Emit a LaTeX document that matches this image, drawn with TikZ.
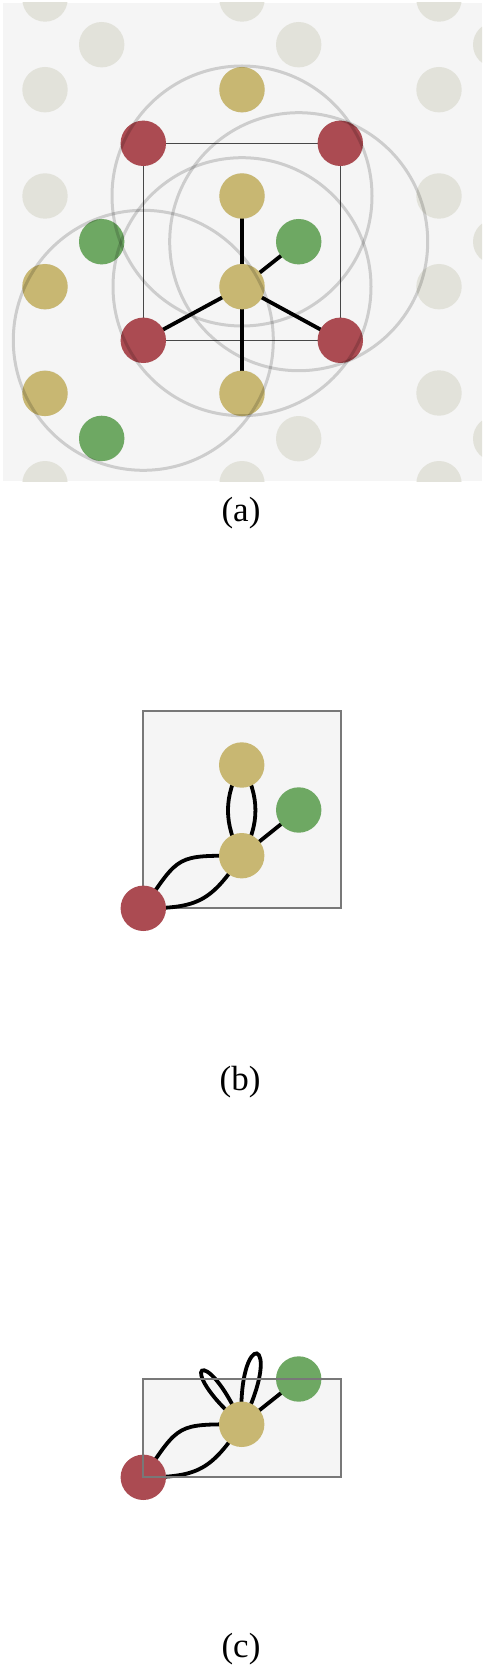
\documentclass[tikz,border=0pt]{standalone}
\usepackage{fontspec}
\setmainfont{Liberation Serif}
\usetikzlibrary{calc}
\definecolor{cred}{HTML}{AB4B52}
\definecolor{cyel}{HTML}{C8B772}
\definecolor{cgrn}{HTML}{6EA863}
\definecolor{cgry}{HTML}{E2E2DA}
\definecolor{cbg}{HTML}{F5F5F5}
\pgfdeclarelayer{bglayer}
\pgfdeclarelayer{edgelayer}
\pgfdeclarelayer{toplayer}
\pgfsetlayers{bglayer,edgelayer,main,toplayer}
\begin{document}
\begin{tikzpicture}[x=1pt,y=-1pt,
  atom/.style={circle,inner sep=0pt,minimum size=45.4pt},
  ratom/.style={atom,fill=cred},
  yatom/.style={atom,fill=cyel},
  gatom/.style={atom,fill=cgrn},
  bond/.style={line width=3.8pt,black},
  cellline/.style={line width=1.5pt,black!72},
  boxline/.style={line width=2pt,black!53},
  ring/.style={line width=3pt,draw=black,draw opacity=0.16},
  lab/.style={inner sep=0pt,font=\fontsize{35}{40}\selectfont}]
\useasboundingbox (0,0) rectangle (485,1669);

% ---------------- panel (a)
\begin{pgfonlayer}{bglayer}
  \fill[cbg] (3,2.7) rectangle (482,481);
  \begin{scope}
    \clip (3,2.7) rectangle (482,481);
    \foreach \i in {-1,0,1,2} {
      \foreach \j in {-1,0,1,2} {
        \foreach \dx/\dy in {0/0, 98.7/52.7, 155.4/98.4, 98.7/143.4} {
          \fill[cgry] ({143.3+197*\i+\dx},{143.3+197*\j+\dy}) circle[radius=22.7pt];
        }
      }
    }
  \end{scope}
\end{pgfonlayer}

\node[ratom] (ar1) at (143.3,143.3) {};
\node[ratom] (ar2) at (340.3,143.3) {};
\node[ratom] (ar3) at (143.3,340.3) {};
\node[ratom] (ar4) at (340.3,340.3) {};
\node[yatom] (ay1) at (242,196) {};
\node[yatom] (ay2) at (242,286.7) {};
\node[gatom] (ag) at (298.7,241.7) {};
\node[yatom] (ayt) at (242,89.7) {};
\node[yatom] (ayb) at (242,393.4) {};
\node[gatom] (agl) at (101.7,241.7) {};
\node[yatom] (ayl) at (45,286.7) {};
\node[yatom] (ayll) at (45,393.4) {};
\node[gatom] (agll) at (101.7,438.4) {};

\begin{pgfonlayer}{edgelayer}
  \draw[cellline] (ar1.center) -- (ar2.center) -- (ar4.center) -- (ar3.center) -- cycle;
  \draw[bond] (ay2.center) -- (ay1.center);
  \draw[bond] (ay2.center) -- (ag.center);
  \draw[bond] (ay2.center) -- (ar3.center);
  \draw[bond] (ay2.center) -- (ar4.center);
  \draw[bond] (ay2.center) -- (ayb.center);
\end{pgfonlayer}

\begin{pgfonlayer}{toplayer}
  \draw[ring] (ay1.center) circle[radius=130pt];
  \draw[ring] (ag.center) circle[radius=129pt];
  \draw[ring] (ay2.center) circle[radius=129pt];
  \draw[ring] (ar3.center) circle[radius=130pt];
\end{pgfonlayer}

\node[lab] (la) at (241,513) {(a)};

% ---------------- panel (b)
\begin{pgfonlayer}{bglayer}
  \draw[boxline,fill=cbg] (143.3,711) rectangle (340.5,908.3);
\end{pgfonlayer}
\node[yatom] (by1) at (241.7,765) {};
\node[gatom] (bg) at (298.7,810) {};
\node[yatom] (by2) at (241.7,855.7) {};
\node[ratom] (br) at (143.3,908.3) {};
\begin{pgfonlayer}{edgelayer}
  \draw[bond] (by1.center) .. controls ($(by1)+(-18.3,30.4)$) and ($(by2)+(-18.3,-30.4)$) .. (by2.center);
  \draw[bond] (by1.center) .. controls ($(by1)+(18.3,30.4)$) and ($(by2)+(18.3,-30.4)$) .. (by2.center);
  \draw[bond] (by2.center) -- (bg.center);
  \draw[bond] (by2.center) .. controls ($(by2)+(-65.5,0)$) and ($(br)+(36.6,-54.3)$) .. (br.center);
  \draw[bond] (by2.center) .. controls ($(by2)+(-30.7,45.6)$) and ($(br)+(55,0)$) .. (br.center);
\end{pgfonlayer}
\node[lab] (lb) at (240,1082) {(b)};

% ---------------- panel (c)
\begin{pgfonlayer}{bglayer}
  \fill[cbg] (143.3,1379) rectangle (340.7,1476.7);
\end{pgfonlayer}
\node[yatom] (cy) at (241.7,1424.3) {};
\node[gatom] (cg) at (298.7,1379) {};
\node[ratom] (cr) at (143.3,1477.3) {};
\begin{pgfonlayer}{edgelayer}
  \draw[bond] (cy.center) -- (cg.center);
  \draw[bond] (cy.center) .. controls ($(cy)+(-65.5,0)$) and ($(cr)+(36.6,-54.3)$) .. (cr.center);
  \draw[bond] (cy.center) .. controls ($(cy)+(-30.7,45.6)$) and ($(cr)+(55,0)$) .. (cr.center);
  \draw[bond] (cy.center) .. controls ($(cy)+(-69.9,-59.1)$) and ($(cy)+(-36.0,-84.1)$) .. (cy.center);
  \draw[bond] (cy.center) .. controls ($(cy)+(-5.2,-99.9)$) and ($(cy)+(45.4,-89.1)$) .. (cy.center);
\end{pgfonlayer}
\begin{pgfonlayer}{toplayer}
  \draw[boxline] (143.3,1379) rectangle (340.7,1476.7);
\end{pgfonlayer}
\node[lab] (lc) at (241,1649) {(c)};
\end{tikzpicture}
\end{document}
